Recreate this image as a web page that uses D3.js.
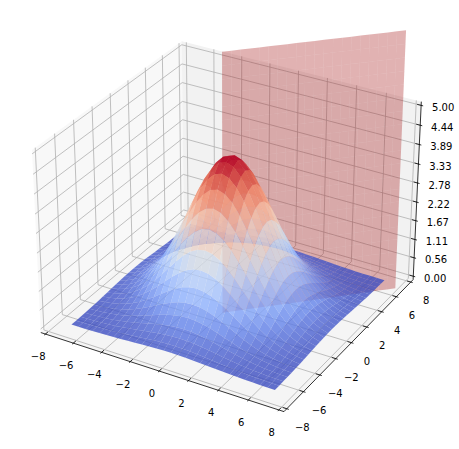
<!DOCTYPE html>
<html><head><meta charset="utf-8">
<script src="https://cdn.jsdelivr.net/npm/d3@7/dist/d3.min.js"></script>
<style>html,body{margin:0;padding:0;background:#fff}svg{display:block}text{font-family:"DejaVu Sans",sans-serif;font-size:10px;fill:#000}</style>
</head><body><div id="chart"></div>
<script>
const xTicks=[-8,-6,-4,-2,0,2,4,6,8];
const yTicks=[-8,-6,-4,-2,0,2,4,6,8];
const zTicks=[0,0.56,1.11,1.67,2.22,2.78,3.33,3.89,4.44,5];
const zTickLabels=["0.00","0.56","1.11","1.67","2.22","2.78","3.33","3.89","4.44","5.00"];
const gridX=[-7,-6.5,-6,-5.5,-5,-4.5,-4,-3.5,-3,-2.5,-2,-1.5,-1,-0.5,0,0.5,1,1.5,2,2.5,3,3.5,4,4.5,5,5.5,6,6.5,7];
const gridY=gridX.slice();
const profileX=[.027,.044,.07,.107,.157,.224,.306,.404,.514,.63,.744,.847,.929,.982,1,.982,.929,.847,.744,.63,.514,.404,.306,.224,.157,.107,.07,.044,.027];
const profileY=profileX.slice();
const peakZ=4.25;
const planeEndsX=[0.2,8];
const planeEndsY=[-1.3,6.5];
const planeTopZ=7.35;
const planeStepsU=[0,.05,.1,.15,.2,.25,.3,.35,.4,.45,.5,.55,.6,.65,.7,.75,.8,.85,.9,.95,1];
const planeStepsV=[0,.05,.1,.15,.2,.25,.3,.35,.4,.45,.5,.55,.6,.65,.7,.75,.8,.85,.9,.95,1];
const coolwarm=["#3b4cc0","#6282ea","#8db0fe","#b8d0f9","#dddddd","#f5c4ad","#f49a7b","#de604d","#b40426"];
const surfaceAlpha=0.8, planeAlpha=0.35, planeColor="#aa2222";

const W=459,H=449;
const svg=d3.select("#chart").append("svg").attr("width",W).attr("height",H);

// matplotlib mplot3d camera
const nx=d3.scaleLinear([-8,8],[0,1]),ny=d3.scaleLinear([-8,8],[0,1]),nz=d3.scaleLinear([0,5],[0,1]);
const box=[1.1428,1.1428,.8571],dist=10;
const el=30*Math.PI/180,az=-60*Math.PI/180;
const n=[Math.cos(az)*Math.cos(el),Math.sin(az)*Math.cos(el),Math.sin(el)];
const u=[-n[1]/Math.hypot(n[0],n[1]),n[0]/Math.hypot(n[0],n[1]),0];
const v=[n[1]*u[2]-n[2]*u[1],n[2]*u[0]-n[0]*u[2],n[0]*u[1]-n[1]*u[0]];
const dot=(a,b)=>a[0]*b[0]+a[1]*b[1]+a[2]*b[2];
function projN(a,b,c){const p=[(a-.5)*box[0],(b-.5)*box[1],(c-.5)*box[2]];
  const w=dist-dot(n,p);return{x:dot(u,p)/w,y:dot(v,p)/w,w};}
const sx=d3.scaleLinear([-.1,.1],[230.4-234,230.4+234]);
const sy=d3.scaleLinear([-.1,.1],[217.5+233,217.5-233]);
function P(x,y,z){const q=projN(nx(x),ny(y),nz(z));return[sx(q.x),sy(q.y),q.w];}
const PN=(a,b,c)=>{const q=projN(a,b,c);return[sx(q.x),sy(q.y)];};
const line=d3.line();
const lo=-1/48,hi=1+1/48;

// panes
const panes=[
 {c:"rgba(242,242,242,.5)",p:[[lo,lo,lo],[lo,hi,lo],[lo,hi,hi],[lo,lo,hi]]},
 {c:"rgba(230,230,230,.5)",p:[[lo,hi,lo],[hi,hi,lo],[hi,hi,hi],[lo,hi,hi]]},
 {c:"rgba(236,236,236,.5)",p:[[lo,lo,lo],[hi,lo,lo],[hi,hi,lo],[lo,hi,lo]]}];
svg.append("g").selectAll("path").data(panes).join("path")
 .attr("d",d=>line(d.p.map(q=>PN(...q)))+"Z").attr("fill",d=>d.c);

// gridlines
const grid=[];
xTicks.forEach(t=>{const a=nx(t);grid.push([[a,lo,lo],[a,hi,lo],[a,hi,hi]]);});
yTicks.forEach(t=>{const b=ny(t);grid.push([[hi,b,lo],[lo,b,lo],[lo,b,hi]]);});
zTicks.forEach(t=>{const c=nz(t);grid.push([[lo,lo,c],[lo,hi,c],[hi,hi,c]]);});
svg.append("g").selectAll("path").data(grid).join("path")
 .attr("d",d=>line(d.map(q=>PN(...q)))).attr("fill","none").attr("stroke","#b0b0b0").attr("stroke-width",.8);

// axes lines, ticks, labels
const axisG=svg.append("g");
const axes=[[[lo,lo,lo],[hi,lo,lo]],[[hi,lo,lo],[hi,hi,lo]],[[hi,hi,lo],[hi,hi,hi]]];
axisG.selectAll("path.ax").data(axes).join("path").attr("class","ax")
 .attr("d",d=>line(d.map(q=>PN(...q)))).attr("stroke","#000").attr("stroke-width",.8).attr("fill","none");
const td=1/12,tOut=.1*td,tIn=.2*td;
const tickRows=[];
xTicks.forEach(t=>{const a=nx(t);tickRows.push({a:[a,lo-tOut,lo],b:[a,lo+tIn,lo],dx:-6,dy:21.5,s:String(t).replace("-","\u2212")});});
yTicks.forEach(t=>{const b=ny(t);tickRows.push({a:[hi+tOut,b,lo],b:[hi-tIn,b,lo],dx:13.5,dy:18,s:String(t).replace("-","\u2212")});});
zTicks.forEach((t,i)=>{const c=nz(t);tickRows.push({a:[hi+tOut,hi,c],b:[hi-tIn,hi,c],dx:20,dy:1.5,s:zTickLabels[i]});});
axisG.selectAll("path.tk").data(tickRows).join("path").attr("class","tk")
 .attr("d",d=>line([PN(...d.a),PN(...d.b)])).attr("stroke","#000").attr("stroke-width",.8).attr("fill","none");
axisG.selectAll("text").data(tickRows).join("text").attr("text-anchor","middle").attr("dominant-baseline","central")
 .attr("x",d=>PN(...d.a)[0]+d.dx).attr("y",d=>PN(...d.a)[1]+d.dy).text(d=>d.s);

// painter's algorithm polygons
function drawPolys(polys,fill,alpha){
  polys.forEach(q=>{q.depth=d3.mean(q.pts,p=>-1/p[2]);});
  polys.sort((a,b)=>d3.descending(a.depth,b.depth));
  svg.append("g").selectAll("path").data(polys).join("path")
   .attr("d",d=>line(d.pts.map(p=>[p[0],p[1]]))+"Z").attr("fill",fill).attr("fill-opacity",alpha);
}
// plane
const planeX=d3.scaleLinear([0,1],planeEndsX),planeY=d3.scaleLinear([0,1],planeEndsY),planeZ=d3.scaleLinear([0,1],[0,planeTopZ]);
const planePolys=[];
d3.pairs(planeStepsU).forEach(([a,b])=>d3.pairs(planeStepsV).forEach(([c,e])=>{
 planePolys.push({pts:[[a,c],[b,c],[b,e],[a,e]].map(([s,t])=>P(planeX(s),planeY(s),planeZ(t)))});}));
drawPolys(planePolys,planeColor,planeAlpha);
// surface
const Z=gridY.map((_,j)=>gridX.map((_,i)=>peakZ*profileX[i]*profileY[j]));
const polys=[];
for(let j=0;j<gridY.length-1;j++)for(let i=0;i<gridX.length-1;i++){
 const c=[[i,j],[i+1,j],[i+1,j+1],[i,j+1]];
 polys.push({m:d3.mean(c,([a,b])=>Z[b][a]),pts:c.map(([a,b])=>P(gridX[a],gridY[b],Z[b][a]))});
}
const cw=d3.scaleLinear(d3.range(coolwarm.length).map(i=>i/(coolwarm.length-1)),coolwarm).interpolate(d3.interpolateRgb);
const norm=d3.scaleLinear(d3.extent(polys,d=>d.m),[0,1]);
drawPolys(polys,d=>cw(norm(d.m)),surfaceAlpha);
</script></body></html>
